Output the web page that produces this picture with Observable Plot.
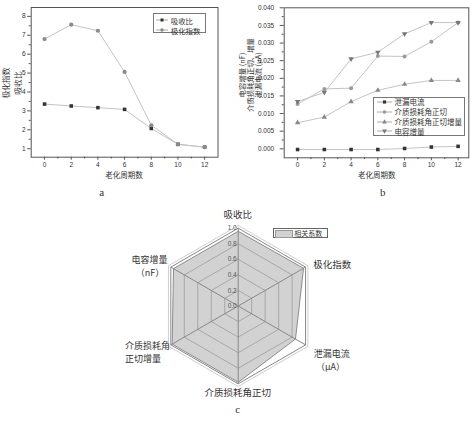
<!DOCTYPE html>
<html><head><meta charset="utf-8">
<script src="https://cdn.jsdelivr.net/npm/d3@7"></script>
<script src="https://cdn.jsdelivr.net/npm/@observablehq/plot@0.6"></script>
<style>
html,body{margin:0;padding:0;background:#fff;}
#root{position:relative;width:474px;height:422px;overflow:hidden;background:#fff;font-family:"Noto Sans CJK SC","Noto Sans",sans-serif;color:#333;}
.lbl{position:absolute;white-space:nowrap;line-height:1;transform:translate(-50%,-50%);}
.rot{transform:translate(-50%,-50%) rotate(-90deg);}
.cap{font-family:"Liberation Serif",serif;}
.plot{position:absolute;}
.legend{position:absolute;border:1px solid #777;background:#fff;box-sizing:border-box;}
.legend .row{position:absolute;left:0;display:flex;align-items:center;white-space:nowrap;line-height:1;transform:translateY(-50%);}
</style></head><body><div id="root"></div>
<script>
// ---------- data ----------
const cycles = [0, 2, 4, 6, 8, 10, 12];
const absorptionRatio = [3.36, 3.26, 3.17, 3.08, 2.07, 1.23, 1.08];
const polarizationIndex = [6.80, 7.56, 7.24, 5.06, 2.24, 1.24, 1.08];
const leakageCurrent = [-0.0002, -0.0002, -0.0002, -0.0002, 0.0001, 0.0005, 0.0007];
const tanDelta = [0.0127, 0.0170, 0.0172, 0.0263, 0.0262, 0.0304, 0.0358];
const tanDeltaIncrement = [0.0074, 0.0090, 0.0134, 0.0166, 0.0183, 0.0194, 0.0194];
const capacitanceIncrement = [0.0134, 0.0160, 0.0255, 0.0274, 0.0326, 0.0358, 0.0358];
const ticksA = [1, 2, 3, 4, 5, 6, 7, 8];
const ticksB = [0, 0.005, 0.010, 0.015, 0.020, 0.025, 0.030, 0.035, 0.040];
const radarAxes = ["吸收比", "极化指数", "泄漏电流", "介质损耗角正切", "介质损耗角正切增量", "电容增量"];
const correlation = [0.96, 0.97, 0.85, 0.98, 0.98, 0.96];
const radarRings = [0.2, 0.4, 0.6, 0.8, 1.0];
const radarTicks = [0, 0.2, 0.4, 0.6, 0.8, 1.0];

// ---------- helpers ----------
const root = document.getElementById("root");
function label(text, x, y, opts = {}) {
  const d = document.createElement("div");
  d.className = "lbl" + (opts.rot ? " rot" : "") + (opts.cls ? " " + opts.cls : "");
  d.textContent = text;
  d.style.left = x + "px"; d.style.top = y + "px";
  d.style.fontSize = (opts.size || 8) + "px";
  if (opts.transform) d.style.transform = opts.transform;
  if (opts.color) d.style.color = opts.color;
  root.appendChild(d);
  return d;
}
function place(svg, left, top) {
  svg.classList.add("plot");
  svg.style.left = left + "px"; svg.style.top = top + "px";
  root.appendChild(svg);
}
const triangleDown = {
  draw(context, size) {
    const sqrt3 = Math.sqrt(3);
    const y = -Math.sqrt(size / (sqrt3 * 3));
    context.moveTo(0, -y * 2);
    context.lineTo(-sqrt3 * y, y);
    context.lineTo(sqrt3 * y, y);
    context.closePath();
  }
};
function symbolPath(sym, size) {
  const map = {square: d3.symbolSquare, circle: d3.symbolCircle, triangle: d3.symbolTriangle};
  return d3.symbol(map[sym] || sym, size)();
}
function legend(box, items, sw) {
  const L = document.createElement("div");
  L.className = "legend";
  Object.assign(L.style, {left: box.left + "px", top: box.top + "px", width: box.width + "px", height: box.height + "px"});
  items.forEach((it) => {
    const row = document.createElement("div");
    row.className = "row";
    row.style.top = it.y + "px";
    row.style.fontSize = sw.font + "px";
    const ns = "http://www.w3.org/2000/svg";
    const s = document.createElementNS(ns, "svg");
    s.setAttribute("width", sw.w); s.setAttribute("height", 8);
    s.style.marginLeft = sw.x0 + "px"; s.style.marginRight = sw.gap + "px";
    const ln = document.createElementNS(ns, "line");
    ln.setAttribute("x1", 0); ln.setAttribute("x2", sw.w); ln.setAttribute("y1", 4); ln.setAttribute("y2", 4);
    ln.setAttribute("stroke", "#aaa"); ln.setAttribute("stroke-width", 1);
    s.appendChild(ln);
    const p = document.createElementNS(ns, "path");
    p.setAttribute("d", symbolPath(it.symbol, sw.size));
    p.setAttribute("transform", `translate(${sw.w / 2},4)`);
    p.setAttribute("fill", it.fill);
    s.appendChild(p);
    row.appendChild(s);
    const t = document.createElement("span");
    t.textContent = it.name;
    row.appendChild(t);
    L.appendChild(row);
  });
  root.appendChild(L);
}
const tickFont = {background: "none", fontFamily: "'Liberation Sans', Arial, sans-serif", fontSize: "6.5px", color: "#333", overflow: "visible"};

// ---------- chart a ----------
const seriesA = [
  {name: "吸收比", values: absorptionRatio, symbol: "square", fill: "#333"},
  {name: "极化指数", values: polarizationIndex, symbol: "circle", fill: "#8a8a8a"}
];
const rowsA = seriesA.flatMap(s => cycles.map((c, i) => ({series: s.name, cycle: c, value: s.values[i]})));
const chartA = Plot.plot({
  width: 230, height: 170,
  marginLeft: 30.7, marginRight: 12.5, marginTop: 7, marginBottom: 13.3,
  style: tickFont,
  x: {domain: [-1, 13], label: null},
  y: {domain: [0.55, 8.47], label: null},
  marks: [
    Plot.line(rowsA, {x: "cycle", y: "value", z: "series", stroke: "#c4c4c4", strokeWidth: 1}),
    ...seriesA.map(s => Plot.dot(rowsA.filter(d => d.series === s.name), {x: "cycle", y: "value", symbol: s.symbol, fill: s.fill, r: s.symbol === "square" ? 2 : 2.1})),
    Plot.frame({stroke: "#555", strokeWidth: 1}),
    Plot.axisX({ticks: cycles, tickSize: 3, tickPadding: 2, label: null, stroke: "#555"}),
    Plot.axisX({ticks: cycles.slice(0, -1).map(c => c + 1), tickSize: 1.8, tickFormat: () => "", label: null, stroke: "#555"}),
    Plot.axisY({ticks: ticksA, tickSize: 3.5, tickPadding: 2, label: null, stroke: "#555"}),
    Plot.axisY({ticks: ticksA.slice(0, -1).map(t => t + 0.5), tickSize: 2, tickFormat: () => "", label: null, stroke: "#555"})
  ]
});
place(chartA, 0, 0);

// ---------- chart b ----------
const seriesB = [
  {name: "泄漏电流", values: leakageCurrent, symbol: "square", fill: "#333"},
  {name: "介质损耗角正切", values: tanDelta, symbol: "circle", fill: "#999"},
  {name: "介质损耗角正切增量", values: tanDeltaIncrement, symbol: "triangle", fill: "#888"},
  {name: "电容增量", values: capacitanceIncrement, symbol: triangleDown, fill: "#777"}
];
const rowsB = seriesB.flatMap(s => cycles.map((c, i) => ({series: s.name, cycle: c, value: s.values[i]})));
const chartB = Plot.plot({
  width: 237, height: 170,
  marginLeft: 46.7, marginRight: 5.7, marginTop: 7.3, marginBottom: 12.7,
  style: tickFont,
  x: {domain: [-1, 12.8], label: null},
  y: {domain: [-0.00255, 0.040], label: null},
  marks: [
    Plot.line(rowsB, {x: "cycle", y: "value", z: "series", stroke: "#c4c4c4", strokeWidth: 1}),
    ...seriesB.map(s => Plot.dot(rowsB.filter(d => d.series === s.name), {x: "cycle", y: "value", symbol: s.symbol, fill: s.fill, r: 2})),
    Plot.frame({stroke: "#555", strokeWidth: 1}),
    Plot.axisX({ticks: cycles, tickSize: 3, tickPadding: 2, label: null, stroke: "#555"}),
    Plot.axisX({ticks: cycles.slice(0, -1).map(c => c + 1), tickSize: 1.8, tickFormat: () => "", label: null, stroke: "#555"}),
    Plot.axisY({ticks: ticksB, tickSize: 4, tickPadding: 6, tickFormat: d3.format(".3f"), label: null, stroke: "#555"}),
    Plot.axisY({ticks: ticksB.slice(0, -1).map(t => t + 0.0025), tickSize: 2, tickFormat: () => "", label: null, stroke: "#555"})
  ]
});
place(chartB, 237, 0);

// ---------- chart c (radar) ----------
const R = 77.8, cx = 117.7, cy = 95.5, W = 240, H = 190;
const ang = (k) => k * Math.PI / 3;
const ringPts = (r) => d3.range(7).map(k => ({x: r * Math.sin(ang(k % 6)), y: r * Math.cos(ang(k % 6)), ring: r}));
const polyRows = radarAxes.map((a, k) => ({axis: a, value: correlation[k], k})).concat([{axis: radarAxes[0], value: correlation[0], k: 0}]);
const spokeRows = radarAxes.map((a, k) => ({axis: a, k}));
const chartC = Plot.plot({
  width: W, height: H, margin: 0,
  style: tickFont,
  x: {domain: [-cx / R, (W - cx) / R], axis: null},
  y: {domain: [(cy - H) / R, cy / R], axis: null},
  marks: [
    Plot.line(ringPts(1.035), {x: "x", y: "y", stroke: "#cfcfcf", strokeWidth: 1}),
    Plot.line(polyRows, {x: d => d.value * Math.sin(ang(d.k)), y: d => d.value * Math.cos(ang(d.k)), fill: "#d2d2d2", stroke: "#8c8c8c", strokeWidth: 1}),
    ...radarRings.map(r => Plot.line(ringPts(r), {x: "x", y: "y", stroke: r === 1 ? "#888" : "#9c9c9c", strokeWidth: r === 1 ? 1 : 0.8})),
    Plot.link(spokeRows, {x1: 0, y1: 0, x2: d => Math.sin(ang(d.k)), y2: d => Math.cos(ang(d.k)), stroke: "#888", strokeWidth: 1}),
    Plot.text(radarTicks, {x: 0, y: d => d, text: d => d.toFixed(1), textAnchor: "end", dx: -1.5, dy: 0, fill: "#555", fontSize: 6.5})
  ]
});
place(chartC, 237.7 - cx, 305.5 - cy);

// radar legend
const LC = document.createElement("div");
LC.className = "legend";
Object.assign(LC.style, {left: "273.3px", top: "228.3px", width: "54.4px", height: "9.8px", borderColor: "#666"});
LC.innerHTML = '<div style="position:absolute;left:1px;top:1px;width:16px;height:5.8px;background:#d2d2d2;border:0.5px solid #999"></div>' +
  '<div style="position:absolute;left:20px;top:50%;transform:translateY(-50%);font-size:7px;line-height:1;white-space:nowrap">相关系数</div>';
root.appendChild(LC);

// ---------- legends a & b ----------
legend({left: 153.3, top: 13.3, width: 52.7, height: 20.2},
  seriesA.map((s, i) => ({name: s.name, symbol: s.symbol, fill: s.fill, y: [6.1, 16.0][i]})),
  {x0: 1.5, w: 12, gap: 3, size: 9, font: 7.4});
legend({left: 373, top: 96.7, width: 92.3, height: 39.5},
  seriesB.map((s, i) => ({name: s.name, symbol: s.symbol, fill: s.fill, y: [4.0, 13.9, 24.0, 33.8][i]})),
  {x0: 2.5, w: 15, gap: 3, size: 10, font: 7.5});

// ---------- text labels ----------
label("极化指数", 6.2, 82.5, {rot: true, size: 7.8});
label("吸收比", 17.8, 82.5, {rot: true, size: 7.8});
label("电容增量 (nF)", 241.8, 75, {rot: true, size: 7.4});
label("介质损耗角正切、增量", 250, 75, {rot: true, size: 7.4});
label("泄漏电流 (μA)", 258.2, 75, {rot: true, size: 7.4});
label("老化周期数", 124, 175, {size: 7.5});
label("老化周期数", 376.7, 175, {size: 7.5});
label("a", 101.7, 192.3, {cls: "cap", size: 11});
label("b", 382.7, 192, {cls: "cap", size: 11});
label("c", 237.7, 409.3, {cls: "cap", size: 11});

label("吸收比", 237.7, 215, {size: 9.5});
label("极化指数", 332.3, 265, {size: 9.5});
label("泄漏电流", 331.7, 353, {size: 9});
label("（μA）", 330.5, 366, {size: 9});
label("介质损耗角正切", 237.7, 392.7, {size: 9.5});
label("介质损耗角", 125, 345.3, {size: 9, transform: "translate(0,-50%)"});
label("正切增量", 125, 358.3, {size: 9, transform: "translate(0,-50%)"});
label("电容增量", 149.5, 258.5, {size: 9});
label("（nF）", 150, 271.5, {size: 9});
</script></body></html>
